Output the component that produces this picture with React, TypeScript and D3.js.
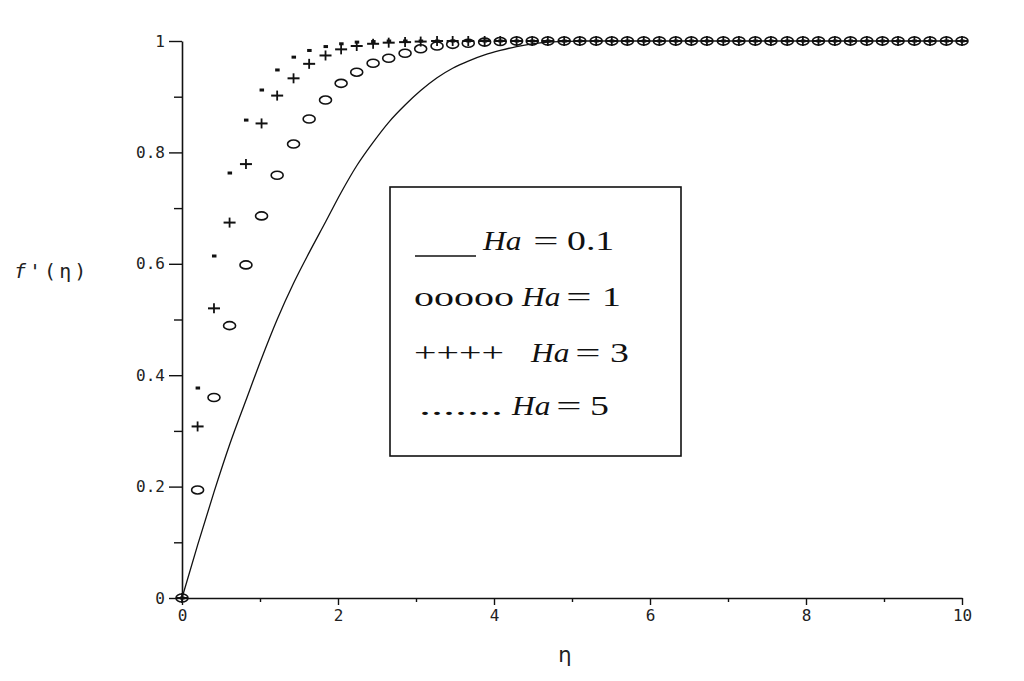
import React, { useEffect, useRef } from 'react';
import * as d3 from 'd3';

// eta grid of the numerical solution (50 points over [0, 10])
const ETA = [0, 0.2, 0.41, 0.61, 0.82, 1.02, 1.22, 1.43, 1.63, 1.84, 2.04, 2.24, 2.45, 2.65, 2.86, 3.06, 3.27, 3.47, 3.67, 3.88,
  4.08, 4.29, 4.49, 4.69, 4.9, 5.1, 5.31, 5.51, 5.71, 5.92, 6.12, 6.33, 6.53, 6.73, 6.94, 7.14, 7.35, 7.55, 7.76, 7.96,
  8.16, 8.37, 8.57, 8.78, 8.98, 9.18, 9.39, 9.59, 9.8, 10];

const HA_01 = [0, 0.095, 0.19, 0.275, 0.355, 0.43, 0.5, 0.565, 0.62, 0.675, 0.728, 0.776, 0.818, 0.854, 0.885, 0.911, 0.934, 0.951, 0.964, 0.975,
  0.983, 0.99, 0.995, 0.998, 0.999, 1, 1, 1, 1, 1, 1, 1, 1, 1, 1, 1, 1, 1, 1, 1,
  1, 1, 1, 1, 1, 1, 1, 1, 1, 1];
const HA_1 = [0, 0.194, 0.36, 0.489, 0.598, 0.686, 0.759, 0.815, 0.86, 0.894, 0.924, 0.944, 0.96, 0.969, 0.978, 0.986, 0.991, 0.994, 0.996, 0.998,
  0.999, 1, 1, 1, 1, 1, 1, 1, 1, 1, 1, 1, 1, 1, 1, 1, 1, 1, 1, 1,
  1, 1, 1, 1, 1, 1, 1, 1, 1, 1];
const HA_3 = [0, 0.308, 0.52, 0.674, 0.779, 0.852, 0.902, 0.933, 0.959, 0.974, 0.985, 0.991, 0.995, 0.997, 0.998, 0.999, 1, 1, 1, 1,
  1, 1, 1, 1, 1, 1, 1, 1, 1, 1, 1, 1, 1, 1, 1, 1, 1, 1, 1, 1,
  1, 1, 1, 1, 1, 1, 1, 1, 1, 1];
const HA_5 = [0, 0.377, 0.614, 0.763, 0.858, 0.912, 0.948, 0.971, 0.983, 0.99, 0.995, 0.998, 0.999, 1, 1, 1, 1, 1, 1, 1,
  1, 1, 1, 1, 1, 1, 1, 1, 1, 1, 1, 1, 1, 1, 1, 1, 1, 1, 1, 1,
  1, 1, 1, 1, 1, 1, 1, 1, 1, 1];

const X_TICKS = [0, 2, 4, 6, 8, 10];
const X_MINOR = [1, 3, 5, 7, 9];
const Y_TICKS = [0, 0.2, 0.4, 0.6, 0.8, 1];
const Y_MINOR = [0.1, 0.3, 0.5, 0.7, 0.9];

const LEGEND = [
  { sym: 'line', value: '0.1' },
  { sym: 'ooooo', value: '1' },
  { sym: '++++', value: '3' },
  { sym: '.......', value: '5' },
];

const INK = '#111';

export default function App() {
  const svgRef = useRef<SVGSVGElement>(null);

  useEffect(() => {
    const width = 1024;
    const height = 681;
    const svg = d3.select(svgRef.current);
    svg.selectAll('*').remove();
    svg.attr('width', width).attr('height', height);
    svg.append('rect').attr('width', width).attr('height', height).attr('fill', 'white');

    const x = d3.scaleLinear().domain([0, 10]).range([182, 962]);
    const y = d3.scaleLinear().domain([0, 1]).range([598, 41]);
    const tickFont = '"DejaVu Sans Mono", monospace';

    // axes
    const yAxis = svg.append('g').attr('transform', `translate(${x(0)},0)`)
      .call(d3.axisLeft(y).tickValues(Y_TICKS).tickFormat(d3.format('~g') as any)
        .tickSize(13).tickPadding(4).tickSizeOuter(0));
    yAxis.selectAll('text').style('font-family', tickFont).style('font-size', '16px').attr('fill', '#222');
    yAxis.append('g').call(d3.axisLeft(y).tickValues(Y_MINOR).tickFormat(() => '').tickSize(8).tickSizeOuter(0))
      .select('.domain').remove();

    const xAxis = svg.append('g').attr('transform', `translate(0,${y(0)})`)
      .call(d3.axisBottom(x).tickValues(X_TICKS).tickFormat(d3.format('~g') as any)
        .tickSize(7).tickPadding(5).tickSizeOuter(0));
    xAxis.selectAll('text').style('font-family', tickFont).style('font-size', '16px').attr('fill', '#222');
    xAxis.append('g').call(d3.axisBottom(x).tickValues(X_MINOR).tickFormat(() => '').tickSize(4).tickSizeOuter(0))
      .select('.domain').remove();

    svg.selectAll('.domain').attr('stroke', INK).attr('stroke-width', 1.6);
    svg.selectAll('.tick line').attr('stroke', INK).attr('stroke-width', 1.4);

    // axis titles
    svg.append('text').attr('x', 565).attr('y', 662).attr('text-anchor', 'middle')
      .style('font-family', '"DejaVu Sans", sans-serif').style('font-size', '21px').attr('fill', '#222')
      .text('η');
    svg.append('text').attr('x', 14).attr('y', 278)
      .style('font-family', '"DejaVu Sans Mono", monospace').style('font-size', '20px').attr('fill', '#222')
      .style('letter-spacing', '3px')
      .html('<tspan font-style="italic">f</tspan>\'(η)');

    // Ha = 0.1 : solid line
    const pts = ETA.map((e, i) => [x(e), y(HA_01[i])] as [number, number]);
    svg.append('path').attr('d', d3.line().curve(d3.curveMonotoneX)(pts))
      .attr('fill', 'none').attr('stroke', INK).attr('stroke-width', 1.3);

    // Ha = 1 : circles
    svg.append('g').selectAll('ellipse').data(ETA).join('ellipse')
      .attr('cx', d => x(d)).attr('cy', (d, i) => y(HA_1[i]))
      .attr('rx', 6).attr('ry', 4).attr('fill', 'none').attr('stroke', INK).attr('stroke-width', 1.6);

    // Ha = 3 : plus signs
    const plus = svg.append('g').selectAll('g').data(ETA).join('g')
      .attr('transform', (d, i) => `translate(${x(d)},${y(HA_3[i])})`);
    plus.append('line').attr('x1', -6).attr('x2', 6).attr('stroke', INK).attr('stroke-width', 2);
    plus.append('line').attr('y1', -5).attr('y2', 5).attr('stroke', INK).attr('stroke-width', 1.8);

    // Ha = 5 : small dots
    svg.append('g').selectAll('rect').data(ETA).join('rect')
      .attr('x', d => x(d) - 2).attr('y', (d, i) => y(HA_5[i]) - 1.5)
      .attr('width', 4.5).attr('height', 3).attr('fill', INK);

    // legend
    const box = { x: 390, y: 187, w: 291, h: 269 };
    svg.append('rect').attr('x', box.x).attr('y', box.y).attr('width', box.w).attr('height', box.h)
      .attr('fill', 'white').attr('stroke', INK).attr('stroke-width', 1.6);

    const serif = '"Liberation Serif", "Times New Roman", serif';
    // per-row layout: baseline, "Ha" start, "=" centre, value start
    const rows = [
      { base: 250, ha: 483, eq: 546, val: 567 },
      { base: 306, ha: 522, eq: 579, val: 602 },
      { base: 362, ha: 531, eq: 588, val: 610 },
      { base: 415, ha: 512, eq: 569, val: 590 },
    ];
    const stretched = (px: number, base: number, k: number) => `translate(${px},${base}) scale(${k},1)`;

    LEGEND.forEach((item, i) => {
      const r = rows[i];
      const g = svg.append('g').attr('fill', INK).style('font-family', serif).style('font-size', '28px');
      if (item.sym === 'line') {
        g.append('line').attr('x1', 415).attr('x2', 476).attr('y1', r.base + 6).attr('y2', r.base + 6)
          .attr('stroke', INK).attr('stroke-width', 1.3);
      } else {
        const t = g.append('text').attr('transform', stretched(item.sym === '.......' ? 419 : 414, r.base, 1)).text(item.sym);
        if (item.sym === 'ooooo') t.attr('textLength', 100).attr('lengthAdjust', 'spacingAndGlyphs');
        if (item.sym === '++++') t.attr('textLength', 90).attr('lengthAdjust', 'spacingAndGlyphs');
        if (item.sym === '.......') t.attr('textLength', 84).attr('lengthAdjust', 'spacingAndGlyphs');
      }
      g.append('text').attr('transform', stretched(r.ha, r.base, 1.12)).style('font-style', 'italic').text('Ha');
      g.append('text').attr('transform', stretched(r.eq, r.base, 1.6)).attr('text-anchor', 'middle').text('=');
      g.append('text').attr('transform', stretched(r.val, r.base, 1.35)).text(item.value);
    });
  }, []);

  return (
    <div style={{ position: 'absolute', left: 0, top: 0, width: 1024, height: 681, background: 'white' }}>
      <svg ref={svgRef} style={{ display: 'block' }}></svg>
    </div>
  );
}
